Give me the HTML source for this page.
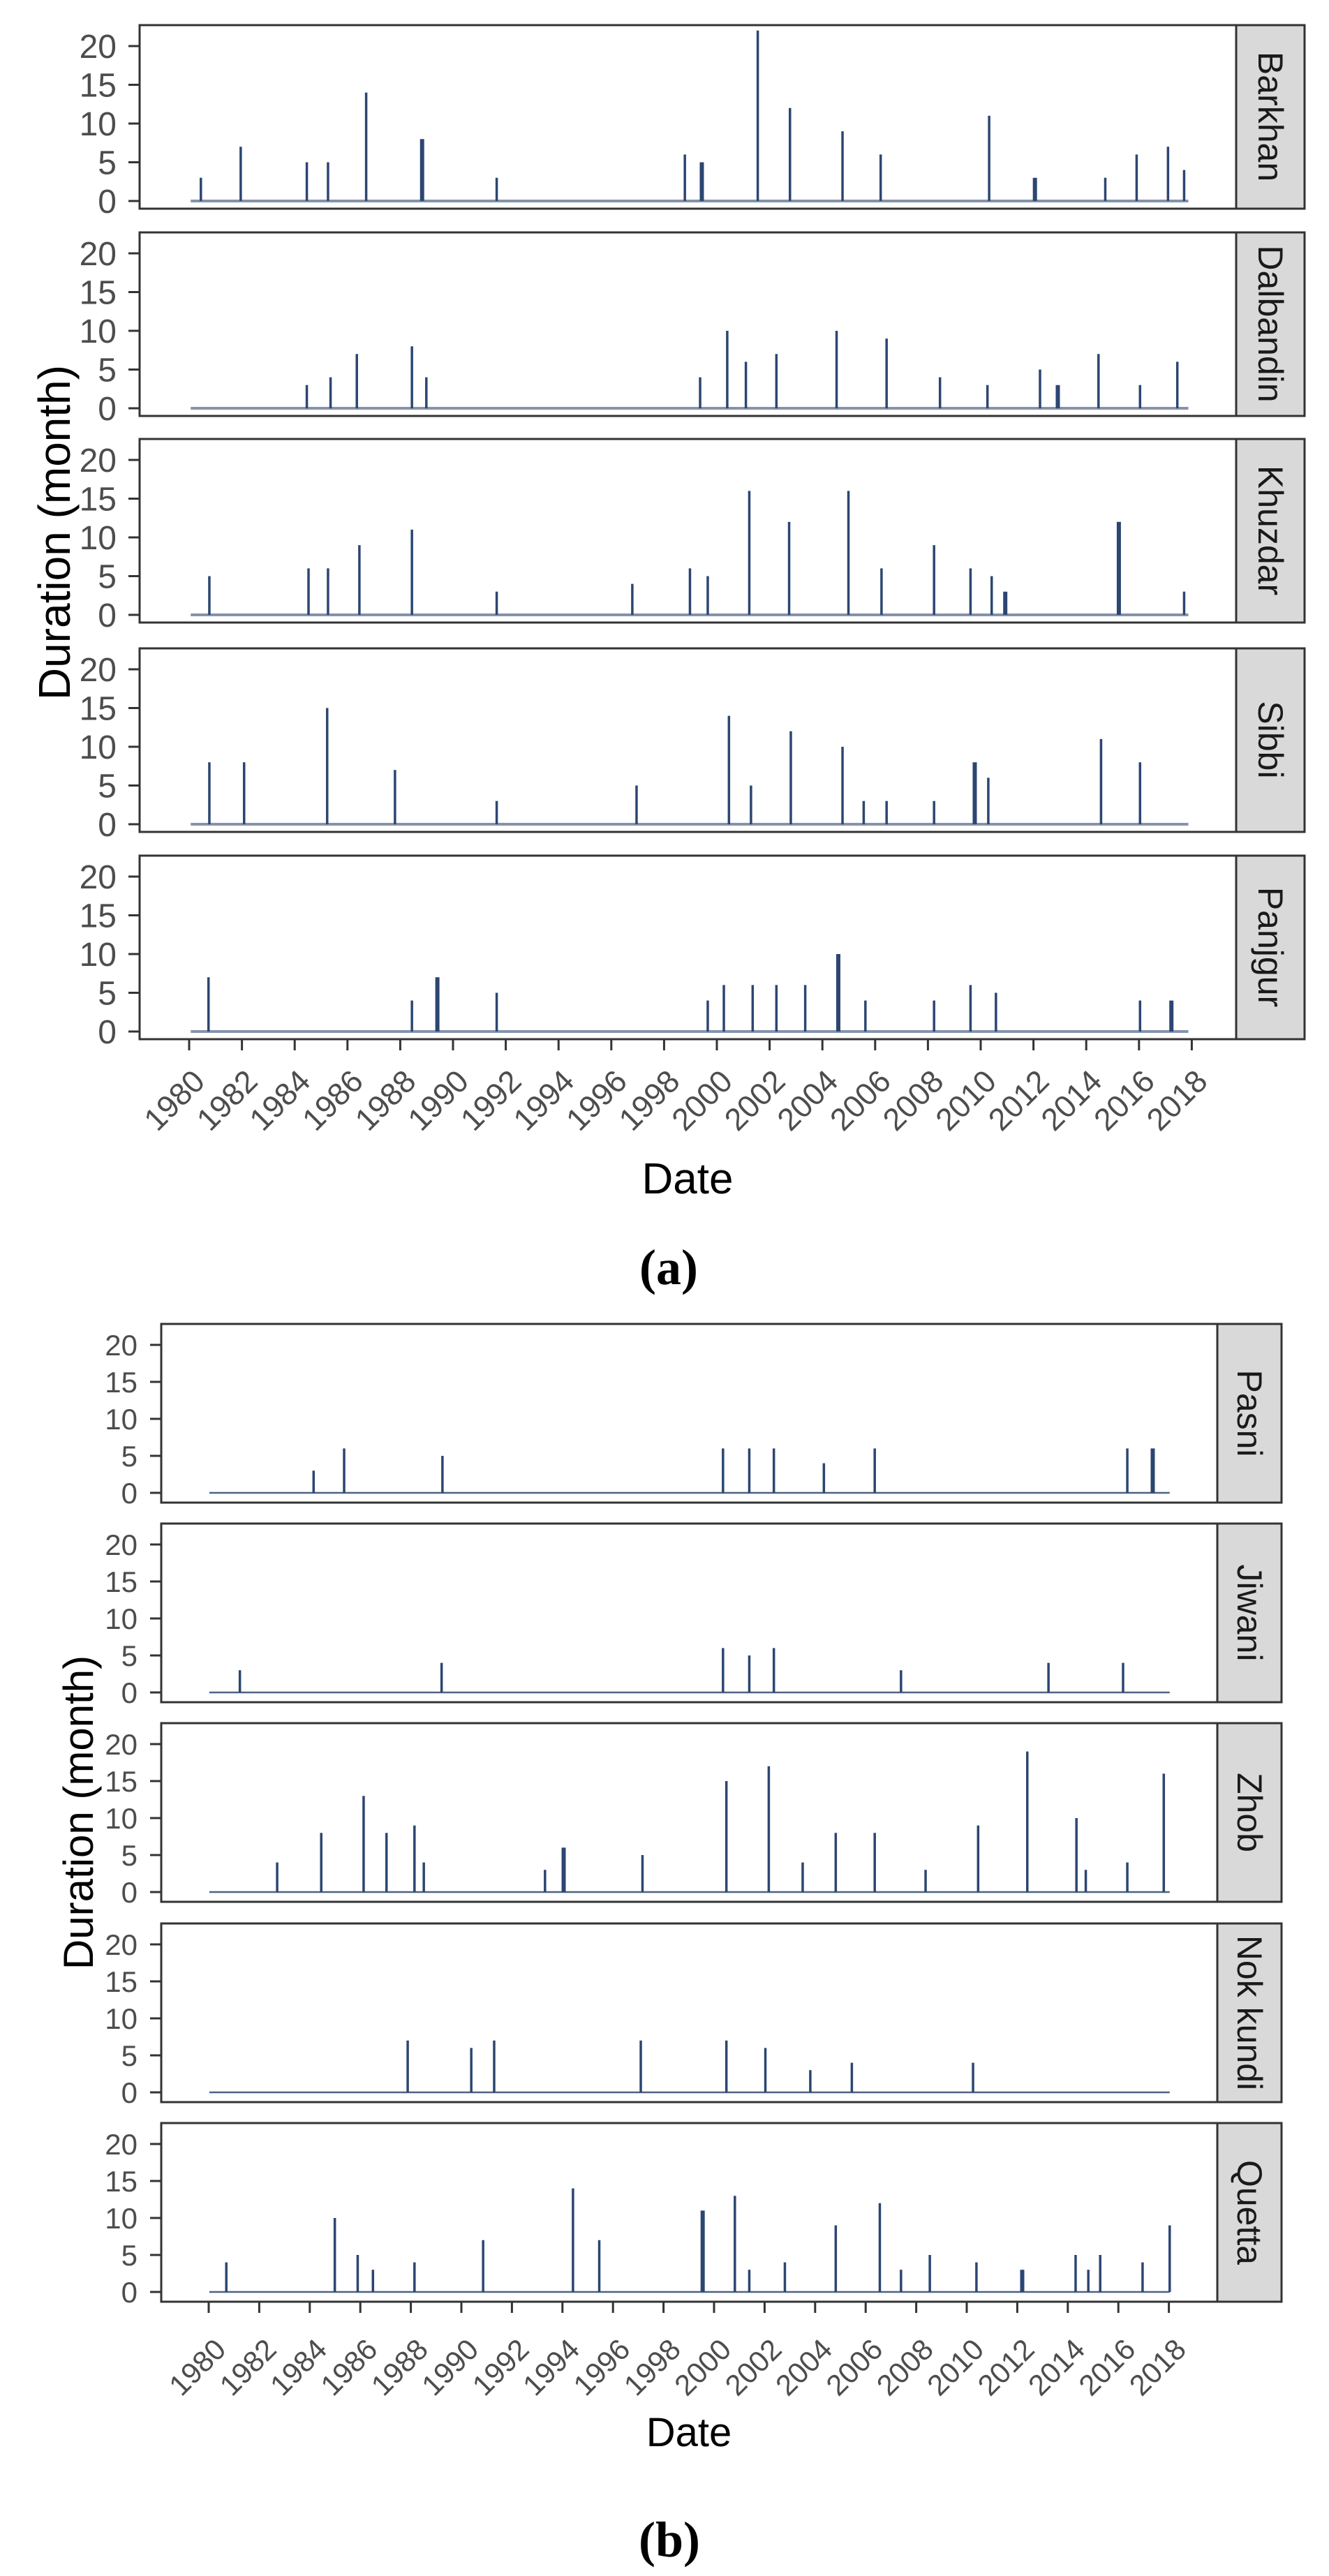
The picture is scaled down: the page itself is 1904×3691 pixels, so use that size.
<!DOCTYPE html>
<html><head><meta charset="utf-8"><style>
html,body{margin:0;padding:0;background:#fff;}
svg{display:block;}
.yt{font-family:"Liberation Sans",sans-serif;fill:#4d4d4d;text-anchor:end;}
.xt{font-family:"Liberation Sans",sans-serif;fill:#4d4d4d;text-anchor:end;}
.st{font-family:"Liberation Sans",sans-serif;fill:#1a1a1a;text-anchor:middle;dominant-baseline:central;}
.ti{font-family:"Liberation Sans",sans-serif;fill:#000;text-anchor:middle;}
.cap{font-family:"Liberation Serif",serif;font-weight:bold;fill:#000;text-anchor:middle;}
</style></head><body>
<svg id="s" width="1904" height="3691" viewBox="0 0 1904 3691" xmlns="http://www.w3.org/2000/svg">
<g id="g"></g>
<!-- panel a y tick labels -->
<g class="yt" font-size="48">
<g transform="translate(167,288)"><text y="17">0</text><text y="-38.5">5</text><text y="-94">10</text><text y="-149.5">15</text><text y="-205">20</text></g>
<g transform="translate(167,585)"><text y="17">0</text><text y="-38.5">5</text><text y="-94">10</text><text y="-149.5">15</text><text y="-205">20</text></g>
<g transform="translate(167,881)"><text y="17">0</text><text y="-38.5">5</text><text y="-94">10</text><text y="-149.5">15</text><text y="-205">20</text></g>
<g transform="translate(167,1181)"><text y="17">0</text><text y="-38.5">5</text><text y="-94">10</text><text y="-149.5">15</text><text y="-205">20</text></g>
<g transform="translate(167,1478)"><text y="17">0</text><text y="-38.5">5</text><text y="-94">10</text><text y="-149.5">15</text><text y="-205">20</text></g>
</g>
<!-- panel b y tick labels -->
<g class="yt" font-size="42">
<g transform="translate(197,2139)"><text y="15">0</text><text y="-38">5</text><text y="-91">10</text><text y="-144">15</text><text y="-197">20</text></g>
<g transform="translate(197,2425)"><text y="15">0</text><text y="-38">5</text><text y="-91">10</text><text y="-144">15</text><text y="-197">20</text></g>
<g transform="translate(197,2711)"><text y="15">0</text><text y="-38">5</text><text y="-91">10</text><text y="-144">15</text><text y="-197">20</text></g>
<g transform="translate(197,2998)"><text y="15">0</text><text y="-38">5</text><text y="-91">10</text><text y="-144">15</text><text y="-197">20</text></g>
<g transform="translate(197,3284)"><text y="15">0</text><text y="-38">5</text><text y="-91">10</text><text y="-144">15</text><text y="-197">20</text></g>
</g>
<!-- strip labels -->
<g class="st" font-size="50">
<text transform="translate(1820,167) rotate(90)">Barkhan</text>
<text transform="translate(1820,464) rotate(90)">Dalbandin</text>
<text transform="translate(1820,760) rotate(90)">Khuzdar</text>
<text transform="translate(1820,1060) rotate(90)">Sibbi</text>
<text transform="translate(1820,1357) rotate(90)">Panjgur</text>
<text transform="translate(1790,2025) rotate(90)">Pasni</text>
<text transform="translate(1790,2311) rotate(90)">Jiwani</text>
<text transform="translate(1790,2597) rotate(90)">Zhob</text>
<text transform="translate(1790,2884) rotate(90)">Nok kundi</text>
<text transform="translate(1790,3170) rotate(90)">Quetta</text>
</g>
<!-- x tick labels a -->
<g class="xt" font-size="45">
<text transform="translate(296,1552) rotate(-45)">1980</text>
<text transform="translate(371.6,1552) rotate(-45)">1982</text>
<text transform="translate(447.2,1552) rotate(-45)">1984</text>
<text transform="translate(522.8,1552) rotate(-45)">1986</text>
<text transform="translate(598.4,1552) rotate(-45)">1988</text>
<text transform="translate(674,1552) rotate(-45)">1990</text>
<text transform="translate(749.6,1552) rotate(-45)">1992</text>
<text transform="translate(825.2,1552) rotate(-45)">1994</text>
<text transform="translate(900.8,1552) rotate(-45)">1996</text>
<text transform="translate(976.4,1552) rotate(-45)">1998</text>
<text transform="translate(1052,1552) rotate(-45)">2000</text>
<text transform="translate(1127.6,1552) rotate(-45)">2002</text>
<text transform="translate(1203.2,1552) rotate(-45)">2004</text>
<text transform="translate(1278.8,1552) rotate(-45)">2006</text>
<text transform="translate(1354.4,1552) rotate(-45)">2008</text>
<text transform="translate(1430,1552) rotate(-45)">2010</text>
<text transform="translate(1505.6,1552) rotate(-45)">2012</text>
<text transform="translate(1581.2,1552) rotate(-45)">2014</text>
<text transform="translate(1656.8,1552) rotate(-45)">2016</text>
<text transform="translate(1732.4,1552) rotate(-45)">2018</text>
</g>
<!-- x tick labels b -->
<g class="xt" font-size="42">
<text transform="translate(326,3369) rotate(-45)">1980</text>
<text transform="translate(398.4,3369) rotate(-45)">1982</text>
<text transform="translate(470.8,3369) rotate(-45)">1984</text>
<text transform="translate(543.2,3369) rotate(-45)">1986</text>
<text transform="translate(615.6,3369) rotate(-45)">1988</text>
<text transform="translate(688,3369) rotate(-45)">1990</text>
<text transform="translate(760.4,3369) rotate(-45)">1992</text>
<text transform="translate(832.8,3369) rotate(-45)">1994</text>
<text transform="translate(905.2,3369) rotate(-45)">1996</text>
<text transform="translate(977.6,3369) rotate(-45)">1998</text>
<text transform="translate(1050,3369) rotate(-45)">2000</text>
<text transform="translate(1122.4,3369) rotate(-45)">2002</text>
<text transform="translate(1194.8,3369) rotate(-45)">2004</text>
<text transform="translate(1267.2,3369) rotate(-45)">2006</text>
<text transform="translate(1339.6,3369) rotate(-45)">2008</text>
<text transform="translate(1412,3369) rotate(-45)">2010</text>
<text transform="translate(1484.4,3369) rotate(-45)">2012</text>
<text transform="translate(1556.8,3369) rotate(-45)">2014</text>
<text transform="translate(1629.2,3369) rotate(-45)">2016</text>
<text transform="translate(1701.6,3369) rotate(-45)">2018</text>
</g>
<!-- titles -->
<text class="ti" font-size="62" x="985" y="1710">Date</text>
<text class="ti" font-size="58" x="987" y="3505">Date</text>
<text class="ti" font-size="64" transform="translate(100,763) rotate(-90)">Duration (month)</text>
<text class="ti" font-size="60" transform="translate(133,2597) rotate(-90)">Duration (month)</text>
<text class="cap" font-size="72" x="958" y="1840">(a)</text>
<text class="cap" font-size="72" x="959" y="3663">(b)</text>
</svg>
<script>
(function(){
var NS="http://www.w3.org/2000/svg",g=document.getElementById("g");
function el(t,a){var e=document.createElementNS(NS,t);for(var k in a)e.setAttribute(k,a[k]);g.appendChild(e);return e;}
function line(x1,y1,x2,y2,c,w){el("line",{x1:x1,y1:y1,x2:x2,y2:y2,stroke:c,"stroke-width":w});}
var S=0.8235;
var A={left:200,strip:1771,sr:1869,h:263,off:11,unit:11.1,tops:[36,333,629,929,1226],z0:225,z1:1402,zc:"#8593ab",zw:4,tl:16};
var B={left:231,strip:1744,sr:1836,h:256,off:14,unit:10.6,tops:[1897,2183,2469,2756,3042],z0:247,z1:1380,zc:"#4e6283",zw:2.5,tl:16};
var dA=[
[[237,3],[284,7],[362,5],[387,5],[432,14],[498,8,1],[586,3],[808,6],[828,5,1],[894,22],[932,12],[994,9],[1039,6],[1167,11],[1221,3,1],[1304,3],[1341,6],[1378,7],[1397,4]],
[[362,3],[390,4],[421,7],[486,8],[503,4],[826,4],[858,10],[880,6],[916,7],[987,10],[1046,9],[1109,4],[1165,3],[1227,5],[1248,3,1],[1296,7],[1345,3],[1389,6]],
[[247,5],[364,6],[387,6],[424,9],[486,11],[586,3],[746,4],[814,6],[835,5],[884,16],[931,12],[1001,16],[1040,6],[1102,9],[1145,6],[1170,5],[1186,3,1],[1320,12,1],[1397,3]],
[[247,8],[288,8],[386,15],[466,7],[586,3],[751,5],[860,14],[886,5],[933,12],[994,10],[1019,3],[1046,3],[1102,3],[1150,8,1],[1166,6],[1299,11],[1345,8]],
[[246,7],[486,4],[516,7,1],[586,5],[835,4],[854,6],[888,6],[916,6],[950,6],[989,10,1],[1021,4],[1102,4],[1145,6],[1175,5],[1345,4],[1382,4,1]]];
var dB=[
[[370,3],[406,6],[522,5],[853,6],[884,6],[913,6],[972,4],[1032,6],[1330,6],[1360,6,1]],
[[283,3],[521,4],[853,6],[884,5],[913,6],[1063,3],[1237,4],[1325,4]],
[[327,4],[379,8],[429,13],[456,8],[489,9],[500,4],[643,3],[665,6,1],[758,5],[857,15],[907,17],[947,4],[986,8],[1032,8],[1092,3],[1154,9],[1212,19],[1270,10],[1281,3],[1330,4],[1373,16]],
[[481,7],[556,6],[583,7],[756,7],[857,7],[903,6],[956,3],[1005,4],[1148,4]],
[[267,4],[395,10],[422,5],[440,3],[489,4],[570,7],[676,14],[707,7],[829,11,1],[867,13],[884,3],[926,4],[986,9],[1038,12],[1063,3],[1097,5],[1152,4],[1206,3,1],[1269,5],[1284,3],[1298,5],[1348,4],[1380,9]]];
function draw(P,D,x0,dx){
 P.tops.forEach(function(t,i){
  var b=t+P.h,z=b-P.off;
  el("rect",{x:P.strip,y:t,width:P.sr-P.strip,height:P.h,fill:"#d9d9d9",stroke:"#333",
    "stroke-width":3});
  el("rect",{x:P.left,y:t,width:P.strip-P.left,height:P.h,fill:"#fff",stroke:"#333","stroke-width":3});
  for(var k=0;k<5;k++){var y=z-k*5*P.unit;line(P.left-P.tl,y,P.left,y,"#333",3);}
  line(P.z0/S,z,P.z1/S,z,P.zc,P.zw);
  D[i].forEach(function(d){var x=d[0]/S;line(x,z,x,z-d[1]*P.unit,"#2c4672",d[2]?6:3.5);});
  if(i==4){for(var y=0;y<20;y++){var x=x0+y*dx;line(x,b,x,b+16,"#333",3);}}
 });
}
draw(A,dA,271,75.6);
draw(B,dB,299,72.4);
})();
</script>
</body></html>
